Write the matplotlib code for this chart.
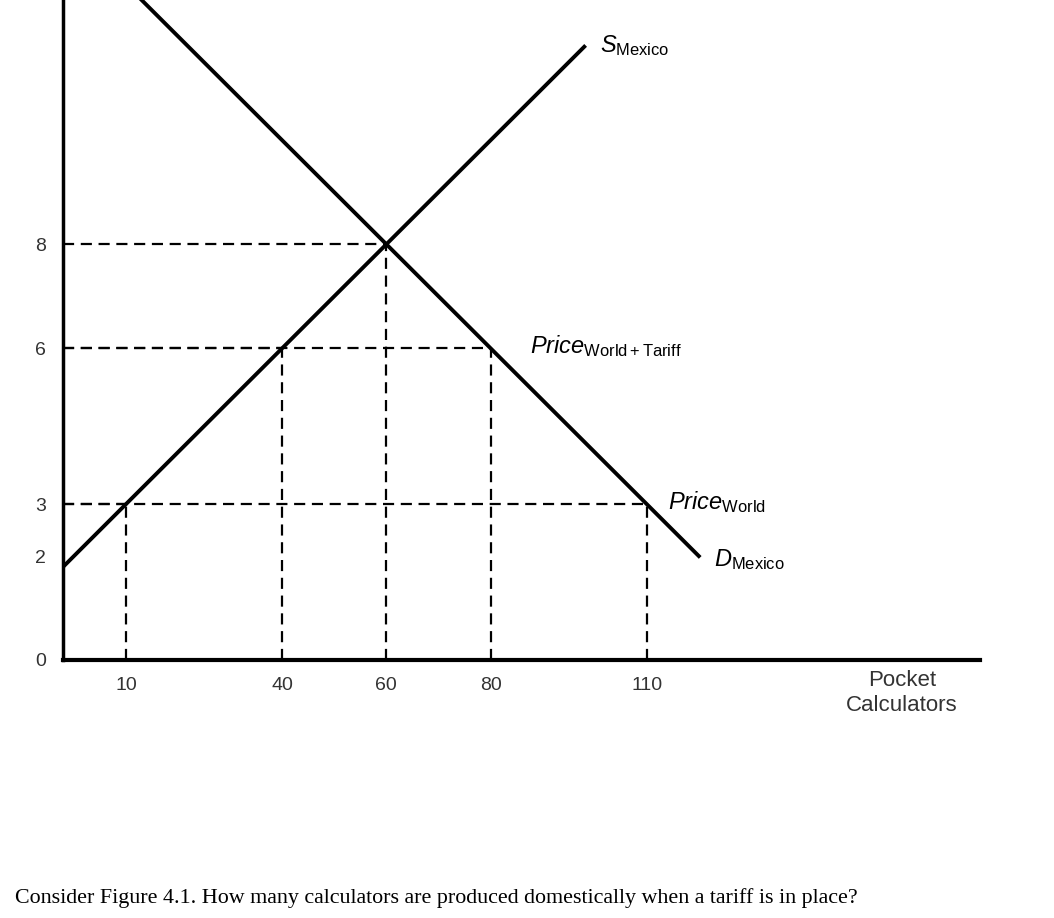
import matplotlib.pyplot as plt

plt.rcParams['font.family'] = ['Liberation Sans', 'DejaVu Sans']
plt.rcParams['mathtext.fontset'] = 'custom'
plt.rcParams['mathtext.rm'] = 'Liberation Sans'
plt.rcParams['mathtext.it'] = 'Liberation Sans:italic'

# 数据
quantities = [10, 40, 60, 80, 110]
prices = [3, 6, 8, 6, 3]
y_ticks = [0, 2, 3, 6, 8]
supply_q = [-2, 98]
demand_q = [9.8, 120]

def supply(q):
    return 2 + 0.1 * q

def demand(q):
    return 14 - 0.1 * q

fig = plt.figure(figsize=(10.54, 9.18), dpi=100)
ax = fig.add_axes([63 / 1054, 258 / 918, 917 / 1054, 660 / 918])
ax.set_xlim(-2.1, 174)
ax.set_ylim(0, 12.7)

ax.plot(supply_q, [supply(q) for q in supply_q], color='black', lw=2.8)
ax.plot(demand_q, [demand(q) for q in demand_q], color='black', lw=2.8)

# 虚线
for q, p in zip(quantities, prices):
    ax.plot([-2.1, q], [p, p], color='black', lw=1.6, ls=(0, (5, 3)))
    ax.plot([q, q], [0, p], color='black', lw=1.6, ls=(0, (5, 3)))

ax.spines['right'].set_visible(False)
ax.spines['top'].set_visible(False)
ax.spines['left'].set_linewidth(2.5)
ax.spines['bottom'].set_linewidth(3)
ax.set_xticks(quantities)
ax.set_xticklabels([str(q) for q in quantities], fontsize=14, color='#333333')
ax.set_yticks(y_ticks)
ax.set_yticklabels([str(y) for y in y_ticks], fontsize=14, color='#333333')
ax.tick_params(length=0, pad=12)

ax.text(101, 11.7, r'$\mathit{S}_{\mathrm{Mexico}}$', fontsize=17)
ax.text(87.5, 5.9, r'$\mathit{Price}_{\mathrm{World+Tariff}}$', fontsize=17)
ax.text(114, 2.9, r'$\mathit{Price}_{\mathrm{World}}$', fontsize=17)
ax.text(123, 1.8, r'$\mathit{D}_{\mathrm{Mexico}}$', fontsize=17)
ax.text(159, -0.2, 'Pocket\nCalculators', fontsize=16, ha='center', va='top',
        color='#333333', linespacing=1.2)

fig.text(15 / 1054, 1 - 898 / 918, 'Consider Figure 4.1. How many calculators are produced domestically when a tariff is in place?',
         fontsize=15.8, family='Liberation Serif', va='center')

plt.savefig('out.png', dpi=100)
